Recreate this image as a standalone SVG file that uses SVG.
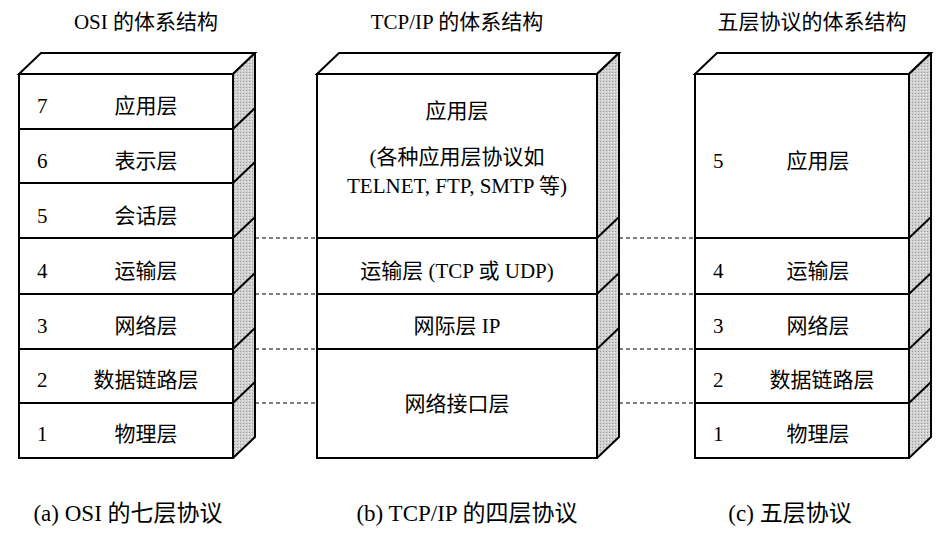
<svg xmlns="http://www.w3.org/2000/svg" width="936" height="533" viewBox="0 0 936 533">
<defs>
<pattern id="g" width="3" height="3" patternUnits="userSpaceOnUse"><rect width="3" height="3" fill="#d0d0d0"/><rect width="1" height="1" fill="#999"/><rect x="2" y="1" width="1" height="1" fill="#f0f0f0"/></pattern>
</defs>
<style>
.b{fill:#fff;stroke:#000;stroke-width:2}
.s{fill:url(#g);stroke:#000;stroke-width:2;stroke-linejoin:round}
.l{stroke:#000;stroke-width:2;fill:none}
.d{stroke:#000;stroke-width:1.2;stroke-dasharray:4 3}
text{font-family:"Liberation Serif","Noto Sans CJK SC",serif;font-size:21px;fill:#000}
.c{text-anchor:middle}
.cap{font-size:23px}
</style>
<rect width="936" height="533" fill="#fff"/>
<g id="connectors">
<line class="d" x1="255" y1="238" x2="317" y2="238"/><line class="d" x1="619" y1="238" x2="695" y2="238"/>
<line class="d" x1="255" y1="294" x2="317" y2="294"/><line class="d" x1="619" y1="294" x2="695" y2="294"/>
<line class="d" x1="255" y1="349" x2="317" y2="349"/><line class="d" x1="619" y1="349" x2="695" y2="349"/>
<line class="d" x1="255" y1="403" x2="317" y2="403"/><line class="d" x1="619" y1="403" x2="695" y2="403"/>
</g>
<g id="osi">
<text x="146" y="29" class="c">OSI 的体系结构</text>
<path class="b" d="M19 74 L41 53 L255 53 L233 74 Z"/>
<path class="s" d="M233 74 L255 53 L255 437 L233 458 Z"/>
<rect class="b" x="19" y="74" width="214" height="384"/>
<path class="l" d="M19 129H233L255 108M19 183H233L255 162M19 238H233L255 217M19 294H233L255 273M19 349H233L255 328M19 403H233L255 382"/>
<text x="37" y="113">7</text><text x="146" y="113" class="c">应用层</text>
<text x="37" y="168">6</text><text x="146" y="168" class="c">表示层</text>
<text x="37" y="223">5</text><text x="146" y="223" class="c">会话层</text>
<text x="37" y="278">4</text><text x="146" y="278" class="c">运输层</text>
<text x="37" y="333">3</text><text x="146" y="333" class="c">网络层</text>
<text x="37" y="387">2</text><text x="146" y="387" class="c">数据链路层</text>
<text x="37" y="441">1</text><text x="146" y="441" class="c">物理层</text>
<text x="128" y="521" class="c cap">(a) OSI 的七层协议</text>
</g>
<g id="tcpip">
<text x="457" y="29" class="c">TCP/IP 的体系结构</text>
<path class="b" d="M317 74 L339 53 L619 53 L597 74 Z"/>
<path class="s" d="M597 74 L619 53 L619 437 L597 458 Z"/>
<rect class="b" x="317" y="74" width="280" height="384"/>
<path class="l" d="M317 238H597L619 217M317 294H597L619 273M317 349H597L619 328"/>
<text x="457" y="118" class="c">应用层</text>
<text x="457" y="164" class="c">(各种应用层协议如</text>
<text x="457" y="193" class="c">TELNET, FTP, SMTP 等)</text>
<text x="457" y="278" class="c">运输层 (TCP 或 UDP)</text>
<text x="457" y="333" class="c">网际层 IP</text>
<text x="457" y="411" class="c">网络接口层</text>
<text x="467" y="521" class="c cap">(b) TCP/IP 的四层协议</text>
</g>
<g id="five">
<text x="812" y="29" class="c">五层协议的体系结构</text>
<path class="b" d="M695 74 L717 53 L931 53 L909 74 Z"/>
<path class="s" d="M909 74 L931 53 L931 437 L909 458 Z"/>
<rect class="b" x="695" y="74" width="214" height="384"/>
<path class="l" d="M695 238H909L931 217M695 294H909L931 273M695 349H909L931 328M695 403H909L931 382"/>
<text x="713" y="168">5</text><text x="818" y="168" class="c">应用层</text>
<text x="713" y="278">4</text><text x="818" y="278" class="c">运输层</text>
<text x="713" y="333">3</text><text x="818" y="333" class="c">网络层</text>
<text x="713" y="387">2</text><text x="822" y="387" class="c">数据链路层</text>
<text x="713" y="441">1</text><text x="818" y="441" class="c">物理层</text>
<text x="790" y="521" class="c cap">(c)  五层协议</text>
</g>
</svg>
